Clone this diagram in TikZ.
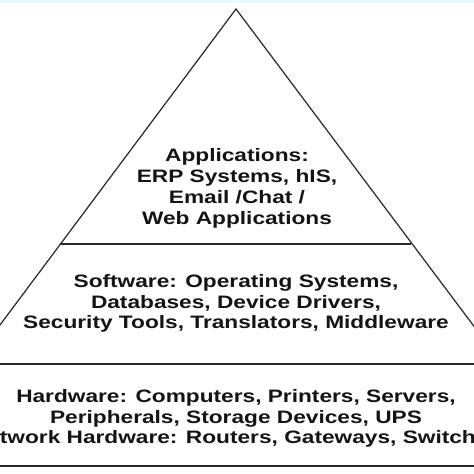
\documentclass[tikz,border=0pt]{standalone}
\usepackage{fontspec}
\setmainfont[FakeStretch=1.26]{Liberation Sans}
\begin{document}
\begin{tikzpicture}[x=1pt,y=-1pt,
  edge/.style={line width=1.2pt,black!85},
  lbl/.style={align=center,font=\fontsize{18}{20.8}\selectfont\bfseries,inner sep=0pt,text=black!92}]
\useasboundingbox (0,0) rectangle (474,474);
\begin{scope}
\clip (0,0) rectangle (474,474);
\fill[white] (0,0) rectangle (474,474);
\fill[blue!15!cyan!10] (0,0) rectangle (474,3);
\coordinate (apex) at (236,9);
\coordinate (bl) at (-3,329);
\coordinate (br) at (476,329);
\coordinate (ml) at (60,244);
\coordinate (mr) at (411,244);
\coordinate (hl) at (0,364);
\coordinate (hr) at (474,364);
\coordinate (fl) at (0,466);
\coordinate (fr) at (474,466);
\draw[edge] (bl) -- (apex) -- (br);
\draw[edge] (ml) -- (mr);
\draw[edge] (hl) -- (hr);
\draw[edge] (fl) -- (fr);
\node[lbl] (app) at (237,188.5) {Applications:\\ERP Systems, hIS,\\Email /Chat /\\Web Applications};
\node[lbl] (sw) at (236,303.5) {Software: Operating Systems,\\Databases, Device Drivers,\\Security Tools, Translators, Middleware};
\node[lbl] (hw) at (236,418.5) {Hardware: Computers, Printers, Servers,\\Peripherals, Storage Devices, UPS\\Network Hardware: Routers, Gateways, Switches};
\end{scope}
\end{tikzpicture}
\end{document}
